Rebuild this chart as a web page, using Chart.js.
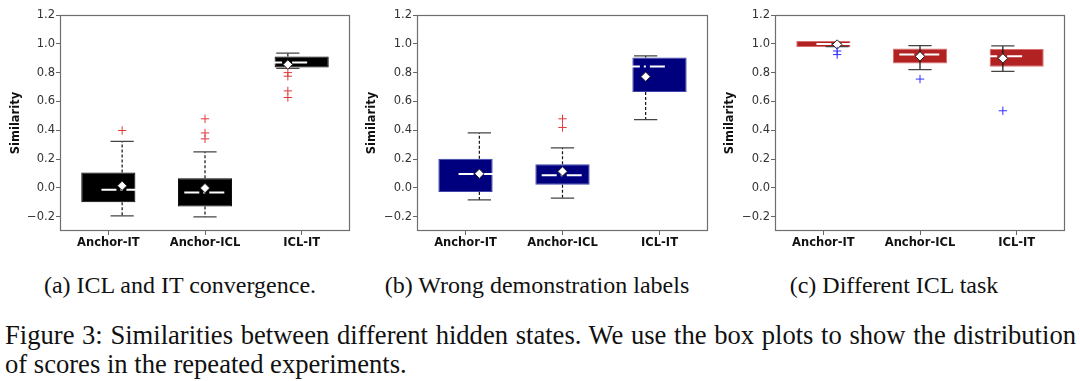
<!DOCTYPE html>
<html>
<head>
<meta charset="utf-8">
<title>Similarities</title>
<script src="https://cdn.jsdelivr.net/npm/chart.js@4.4.0/dist/chart.umd.min.js"></script>
<style>
  body { margin: 0; background: #fff; width: 1080px; height: 381px; position: relative; overflow: hidden; }
  canvas { position: absolute; top: 0; }
  .cap { position: absolute; font-family: 'Liberation Serif', 'Times New Roman', serif; color: #111; }
  .sub { font-size: 24px; line-height: 24px; top: 272.5px; width: 400px; text-align: center; white-space: nowrap; }
  .fig { font-size: 26.6px; line-height: 29px; left: 5px; }
</style>
</head>
<body>
<canvas id="convergence" width="360" height="256" style="left:0"></canvas>
<canvas id="wrong" width="360" height="256" style="left:360px"></canvas>
<canvas id="task" width="360" height="256" style="left:720px"></canvas>

<div class="cap sub" style="left:-20px">(a) ICL and IT convergence.</div>
<div class="cap sub" style="left:337px">(b) Wrong demonstration labels</div>
<div class="cap sub" style="left:694px">(c) Different ICL task</div>
<div class="cap fig" style="top:320.5px; width:1071px; text-align:justify; text-align-last:justify">Figure 3: Similarities between different hidden states. We use the box plots to show the distribution</div>
<div class="cap fig" style="top:349.5px; white-space:nowrap">of scores in the repeated experiments.</div>

<script>
'use strict'

const categories = ['Anchor-IT', 'Anchor-ICL', 'ICL-IT']
const yTicks = [-0.2, 0, 0.2, 0.4, 0.6, 0.8, 1.0, 1.2]

// each box: [whisker low, q1, median, q3, whisker high]
const convergenceBoxes = [
  [-0.195, -0.10, -0.014, 0.107, 0.323],
  [-0.202, -0.13, -0.033, 0.067, 0.249],
  [0.83, 0.836, 0.87, 0.912, 0.935]
]
const convergenceMeans = [0.014, -0.002, 0.856]
const convergenceOutliers = [[0.398], [0.479, 0.381, 0.34], [0.80, 0.775, 0.673, 0.627]]

const wrongBoxes = [
  [-0.084, -0.03, 0.095, 0.202, 0.381],
  [-0.072, 0.021, 0.088, 0.163, 0.277],
  [0.474, 0.665, 0.842, 0.905, 0.916]
]
const wrongMeans = [0.098, 0.114, 0.772]
const wrongOutliers = [[], [0.479, 0.419], []]

const taskBoxes = [
  [0.98, 0.977, 0.998, 1.02, 1.0],
  [0.82, 0.864, 0.926, 0.968, 0.987],
  [0.808, 0.841, 0.913, 0.964, 0.985]
]
const taskMeans = [0.995, 0.913, 0.899]
const taskOutliers = [[0.95, 0.925], [0.755], [0.535]]

Chart.defaults.font.family = 'DejaVu Sans'
Chart.defaults.animation = false

// axes box (matplotlib spines)
const frame = {
  id: 'frame',
  afterDraw(chart) {
    const { ctx, chartArea: a } = chart
    ctx.save()
    ctx.strokeStyle = '#6e6e6e'
    ctx.lineWidth = 1.2
    ctx.strokeRect(a.left + 0.5, a.top + 0.5, a.width - 1, a.height - 1)
    ctx.restore()
  }
}

function boxPanel(id, boxes, means, outliers, style) {
  const half = 0.28      // half box width, in category units
  const capHalf = 0.14
  const whisker = [], caps = [], medians = [], meanPts = [], outPts = []

  boxes.forEach(([lo, q1, med, q3, hi], i) => {
    if (style.whiskerThrough) {
      whisker.push({ x: i, y: lo }, { x: i, y: hi }, { x: i, y: null })
    } else {
      whisker.push({ x: i, y: q3 }, { x: i, y: hi }, { x: i, y: null },
                   { x: i, y: q1 }, { x: i, y: lo }, { x: i, y: null })
    }
    caps.push({ x: i - capHalf, y: hi }, { x: i + capHalf, y: hi }, { x: i, y: null },
              { x: i - capHalf, y: lo }, { x: i + capHalf, y: lo }, { x: i, y: null })
    medians.push({ x: i - half + 0.03, y: med }, { x: i + half, y: med }, { x: i, y: null })
    meanPts.push({ x: i, y: means[i] })
    outliers[i].forEach(v => outPts.push({ x: i, y: v }))
  })

  const tickFont = { family: 'DejaVu Sans', size: 11.5 }
  const boldFont = { family: 'DejaVu Sans', size: 11.5, weight: 'bold' }

  new Chart(document.getElementById(id), {
    type: 'bar',
    data: {
      labels: categories,
      datasets: [
        {
          label: 'outliers', type: 'line', xAxisID: 'xl', order: 0,
          data: outPts, showLine: false,
          pointStyle: 'cross', pointRadius: 4.2, pointBorderWidth: 1,
          pointBorderColor: style.flier
        },
        {
          label: 'mean', type: 'line', xAxisID: 'xl', order: 0,
          data: meanPts, showLine: false,
          pointStyle: 'rectRot', pointRadius: 4.7, pointBorderWidth: 1,
          pointBackgroundColor: '#fff', pointBorderColor: '#222'
        },
        {
          label: 'median', type: 'line', xAxisID: 'xl', order: 1,
          data: medians, pointRadius: 0, borderColor: '#fff', borderWidth: 2,
          borderDash: [15, 4, 2, 4], spanGaps: false
        },
        {
          label: 'caps', type: 'line', xAxisID: 'xl', order: 2,
          data: caps, pointRadius: 0, borderColor: '#444', borderWidth: 1.2, spanGaps: false
        },
        {
          label: 'whiskers', type: 'line', xAxisID: 'xl', order: 3,
          data: whisker, pointRadius: 0, borderColor: '#111', borderWidth: 1.2,
          borderDash: style.whiskerThrough ? [] : [3, 2], spanGaps: false
        },
        {
          label: 'box', order: 4, grouped: false,
          data: boxes.map(b => [b[1], b[3]]),
          backgroundColor: style.box, borderColor: style.edge, borderWidth: 1,
          borderSkipped: false, categoryPercentage: 1, barPercentage: 0.56
        }
      ]
    },
    options: {
      responsive: false,
      events: [],
      layout: { padding: { top: 15, right: style.rightPad, left: 0, bottom: 0 } },
      plugins: { legend: { display: false }, tooltip: { enabled: false } },
      scales: {
        x: {
          type: 'category', offset: true,
          grid: { offset: false, drawOnChartArea: false, tickLength: 4, color: '#666' },
          border: { display: false },
          ticks: { font: boldFont, color: '#111', padding: 1, maxRotation: 0 },
          afterFit: s => { s.height = 25 }
        },
        xl: { type: 'linear', display: false, min: -0.5, max: 2.5 },
        y: {
          min: -0.3, max: 1.2,
          afterBuildTicks: s => { s.ticks = yTicks.map(v => ({ value: v })) },
          grid: { drawOnChartArea: false, tickLength: 4, color: '#666' },
          border: { display: false },
          ticks: {
            font: tickFont, color: '#333', padding: 1,
            callback: v => v.toFixed(1).replace('-', '\u2212')
          },
          title: {
            display: true, text: 'Similarity', font: boldFont, color: '#111',
            padding: { top: style.titlePad, bottom: 0 }
          },
          afterFit: s => { s.width = style.yWidth }
        }
      }
    },
    plugins: [frame]
  })
}

boxPanel('convergence', convergenceBoxes, convergenceMeans, convergenceOutliers, {
  box: '#000', edge: '#000', flier: '#e03a3a', yWidth: 60, rightPad: 10, titlePad: 9
})
boxPanel('wrong', wrongBoxes, wrongMeans, wrongOutliers, {
  box: '#00007f', edge: '#3c44a8', flier: '#e03a3a', yWidth: 57, rightPad: 12, titlePad: 5
})
boxPanel('task', taskBoxes, taskMeans, taskOutliers, {
  box: '#b22222', edge: '#d87070', flier: '#3030ff', yWidth: 55, rightPad: 15, titlePad: 3,
  whiskerThrough: true
})
</script>
</body>
</html>
